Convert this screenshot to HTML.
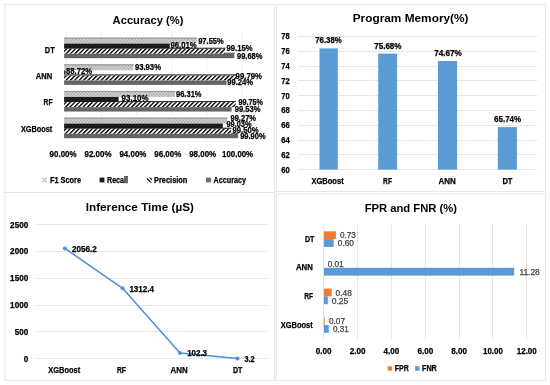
<!DOCTYPE html>
<html lang="en"><head><meta charset="utf-8"><title>Model comparison charts</title>
<style>
html,body{margin:0;padding:0;background:#fff;}
body{width:550px;height:385px;overflow:hidden;}
svg{display:block;font-family:"Liberation Sans",sans-serif;}
text.b{stroke:#000;stroke-width:0.25px;}
</style></head><body>
<svg width="550" height="385" viewBox="0 0 550 385">
<defs>
<pattern id="pF1" width="3.3" height="3.3" patternUnits="userSpaceOnUse"><rect width="3.3" height="3.3" fill="#dadada"/><g fill="#9c9c9c"><circle cx="0" cy="0" r="0.8"/><circle cx="3.3" cy="0" r="0.8"/><circle cx="0" cy="3.3" r="0.8"/><circle cx="3.3" cy="3.3" r="0.8"/><circle cx="1.65" cy="1.65" r="0.8"/></g></pattern>
<pattern id="pPr" width="4.4" height="8" patternUnits="userSpaceOnUse" patternTransform="skewX(-45)"><rect width="4.4" height="8" fill="#fff"/><rect width="2.1" height="8" fill="#111"/></pattern>
</defs>
<rect width="550" height="385" fill="#fff"/>

<g fill="none" stroke="#e4e4e4" stroke-width="1">
<rect x="5" y="4.3" width="269.6" height="188.2"/>
<rect x="276.6" y="4.3" width="269" height="187.3"/>
<rect x="5" y="192.5" width="269.6" height="187.8"/>
<rect x="276.2" y="194" width="269.4" height="186.3"/>
</g>
<g id="c1">
<text x="112.6" y="23.8" font-size="11.5" font-weight="bold" fill="#000" text-anchor="start" textLength="70.8" lengthAdjust="spacingAndGlyphs">Accuracy (%)</text>
<g stroke="#efefef" stroke-width="0.8">
<line x1="66.5" y1="32" x2="66.5" y2="139.5"/>
<line x1="66.5" y1="139.5" x2="62.5" y2="143"/>
<line x1="101.6" y1="32" x2="101.6" y2="139.5"/>
<line x1="101.6" y1="139.5" x2="97.6" y2="143"/>
<line x1="136.7" y1="32" x2="136.7" y2="139.5"/>
<line x1="136.7" y1="139.5" x2="132.7" y2="143"/>
<line x1="171.8" y1="32" x2="171.8" y2="139.5"/>
<line x1="171.8" y1="139.5" x2="167.8" y2="143"/>
<line x1="206.9" y1="32" x2="206.9" y2="139.5"/>
<line x1="206.9" y1="139.5" x2="202.9" y2="143"/>
<line x1="242.0" y1="32" x2="242.0" y2="139.5"/>
<line x1="242.0" y1="139.5" x2="238.0" y2="143"/>
</g>
<rect x="64.1" y="37.60" width="132.7" height="6.0" fill="url(#pF1)"/>
<rect x="64.1" y="37.60" width="133.2" height="1.2" fill="#9c9c9c"/>
<rect x="64.1" y="43.60" width="105.7" height="5.2" fill="#1b1b1b"/>
<rect x="64.1" y="48.80" width="160.9" height="5.0" fill="url(#pPr)"/>
<rect x="169.8" y="47.70" width="55.6" height="1.1" fill="#2a2a2a"/>
<rect x="64.1" y="53.80" width="170.2" height="4.4" fill="#656565"/>
<rect x="225.0" y="52.70" width="9.7" height="1.1" fill="#4a4a4a"/>
<rect x="64.1" y="64.27" width="69.1" height="6.0" fill="url(#pF1)"/>
<rect x="64.1" y="64.27" width="69.6" height="1.2" fill="#9c9c9c"/>
<rect x="64.1" y="75.47" width="172.1" height="5.0" fill="url(#pPr)"/>
<rect x="64.1" y="74.37" width="172.5" height="1.1" fill="#2a2a2a"/>
<rect x="64.1" y="80.47" width="162.4" height="4.4" fill="#656565"/>
<rect x="64.1" y="90.94" width="110.9" height="6.0" fill="url(#pF1)"/>
<rect x="64.1" y="90.94" width="111.4" height="1.2" fill="#9c9c9c"/>
<rect x="64.1" y="96.94" width="54.5" height="5.2" fill="#1b1b1b"/>
<rect x="64.1" y="102.14" width="171.4" height="5.0" fill="url(#pPr)"/>
<rect x="118.6" y="101.04" width="117.3" height="1.1" fill="#2a2a2a"/>
<rect x="64.1" y="107.14" width="167.5" height="4.4" fill="#656565"/>
<rect x="64.1" y="117.61" width="163.0" height="6.0" fill="url(#pF1)"/>
<rect x="64.1" y="117.61" width="163.5" height="1.2" fill="#9c9c9c"/>
<rect x="64.1" y="123.61" width="158.7" height="5.2" fill="#1b1b1b"/>
<rect x="64.1" y="128.81" width="167.0" height="5.0" fill="url(#pPr)"/>
<rect x="222.8" y="127.71" width="8.7" height="1.1" fill="#2a2a2a"/>
<rect x="64.1" y="133.81" width="174.0" height="4.4" fill="#656565"/>
<rect x="231.1" y="132.71" width="7.4" height="1.1" fill="#4a4a4a"/>
<rect x="64.1" y="70.4" width="1.5" height="3.6" fill="#1b1b1b"/>
<text x="44.8" y="52.5" font-size="8.7" font-weight="bold" fill="#000" text-anchor="start" textLength="9.9" lengthAdjust="spacingAndGlyphs" class="b">DT</text>
<text x="35.8" y="78.8" font-size="8.7" font-weight="bold" fill="#000" text-anchor="start" textLength="16.4" lengthAdjust="spacingAndGlyphs" class="b">ANN</text>
<text x="43.6" y="105.4" font-size="8.7" font-weight="bold" fill="#000" text-anchor="start" textLength="8.9" lengthAdjust="spacingAndGlyphs" class="b">RF</text>
<text x="20.9" y="132.3" font-size="8.7" font-weight="bold" fill="#000" text-anchor="start" textLength="31.3" lengthAdjust="spacingAndGlyphs" class="b">XGBoost</text>
<text x="198.2" y="43.8" font-size="8.7" font-weight="bold" fill="#000" text-anchor="start" textLength="25.5" lengthAdjust="spacingAndGlyphs" class="b">97.55%</text>
<text x="170.4" y="48.4" font-size="8.7" font-weight="bold" fill="#000" text-anchor="start" textLength="26.3" lengthAdjust="spacingAndGlyphs" class="b">96.01%</text>
<text x="226.5" y="51.4" font-size="8.7" font-weight="bold" fill="#000" text-anchor="start" textLength="26.0" lengthAdjust="spacingAndGlyphs" class="b">99.15%</text>
<text x="237.0" y="59.1" font-size="8.7" font-weight="bold" fill="#000" text-anchor="start" textLength="25.4" lengthAdjust="spacingAndGlyphs" class="b">99.68%</text>
<text x="134.9" y="70.3" font-size="8.7" font-weight="bold" fill="#000" text-anchor="start" textLength="26.1" lengthAdjust="spacingAndGlyphs" class="b">93.93%</text>
<text x="66.0" y="74.2" font-size="8.7" font-weight="bold" fill="#000" text-anchor="start" textLength="26.0" lengthAdjust="spacingAndGlyphs" class="b">88.72%</text>
<text x="235.6" y="78.5" font-size="8.7" font-weight="bold" fill="#000" text-anchor="start" textLength="26.4" lengthAdjust="spacingAndGlyphs" class="b">99.79%</text>
<text x="227.2" y="85.3" font-size="8.7" font-weight="bold" fill="#000" text-anchor="start" textLength="26.0" lengthAdjust="spacingAndGlyphs" class="b">99.24%</text>
<text x="176.0" y="96.5" font-size="8.7" font-weight="bold" fill="#000" text-anchor="start" textLength="25.5" lengthAdjust="spacingAndGlyphs" class="b">96.31%</text>
<text x="121.6" y="100.9" font-size="8.7" font-weight="bold" fill="#000" text-anchor="start" textLength="27.0" lengthAdjust="spacingAndGlyphs" class="b">93.10%</text>
<text x="238.4" y="105.0" font-size="8.7" font-weight="bold" fill="#000" text-anchor="start" textLength="24.6" lengthAdjust="spacingAndGlyphs" class="b">99.75%</text>
<text x="234.7" y="111.5" font-size="8.7" font-weight="bold" fill="#000" text-anchor="start" textLength="25.7" lengthAdjust="spacingAndGlyphs" class="b">99.53%</text>
<text x="230.5" y="121.1" font-size="8.7" font-weight="bold" fill="#000" text-anchor="start" textLength="25.5" lengthAdjust="spacingAndGlyphs" class="b">99.27%</text>
<text x="226.5" y="127.4" font-size="8.7" font-weight="bold" fill="#000" text-anchor="start" textLength="25.0" lengthAdjust="spacingAndGlyphs" class="b">99.03%</text>
<text x="232.5" y="133.2" font-size="8.7" font-weight="bold" fill="#000" text-anchor="start" textLength="26.1" lengthAdjust="spacingAndGlyphs" class="b">99.50%</text>
<text x="240.2" y="138.9" font-size="8.7" font-weight="bold" fill="#000" text-anchor="start" textLength="25.4" lengthAdjust="spacingAndGlyphs" class="b">99.90%</text>
<text x="49.6" y="157.0" font-size="8.7" font-weight="bold" fill="#000" text-anchor="start" textLength="27.0" lengthAdjust="spacingAndGlyphs" class="b">90.00%</text>
<text x="84.5" y="157.0" font-size="8.7" font-weight="bold" fill="#000" text-anchor="start" textLength="27.0" lengthAdjust="spacingAndGlyphs" class="b">92.00%</text>
<text x="119.4" y="157.0" font-size="8.7" font-weight="bold" fill="#000" text-anchor="start" textLength="27.0" lengthAdjust="spacingAndGlyphs" class="b">94.00%</text>
<text x="154.3" y="157.0" font-size="8.7" font-weight="bold" fill="#000" text-anchor="start" textLength="27.0" lengthAdjust="spacingAndGlyphs" class="b">96.00%</text>
<text x="189.2" y="157.0" font-size="8.7" font-weight="bold" fill="#000" text-anchor="start" textLength="27.0" lengthAdjust="spacingAndGlyphs" class="b">98.00%</text>
<text x="222.1" y="157.0" font-size="8.7" font-weight="bold" fill="#000" text-anchor="start" textLength="31.0" lengthAdjust="spacingAndGlyphs" class="b">100.00%</text>
<rect x="42" y="177.6" width="5" height="4.8" fill="#f1f1f1"/><g fill="#7a7a7a"><circle cx="43" cy="178.5" r="0.6"/><circle cx="45.8" cy="178.5" r="0.6"/><circle cx="44.4" cy="180" r="0.6"/><circle cx="43" cy="181.5" r="0.6"/><circle cx="45.8" cy="181.5" r="0.6"/></g>
<text x="50.0" y="182.8" font-size="8.7" font-weight="bold" fill="#000" text-anchor="start" textLength="31.0" lengthAdjust="spacingAndGlyphs" class="b">F1 Score</text>
<rect x="99.6" y="177.6" width="4.8" height="4.8" fill="#1b1b1b"/>
<text x="107.0" y="182.8" font-size="8.7" font-weight="bold" fill="#000" text-anchor="start" textLength="21.0" lengthAdjust="spacingAndGlyphs" class="b">Recall</text>
<clipPath id="cpL"><rect x="147" y="177.6" width="5" height="4.8"/></clipPath><g clip-path="url(#cpL)" stroke="#111" stroke-width="1.3"><line x1="145" y1="176.6" x2="153" y2="184.6"/><line x1="148" y1="175.6" x2="156" y2="183.6"/><line x1="142" y1="177.6" x2="150" y2="185.6"/></g>
<text x="154.0" y="182.8" font-size="8.7" font-weight="bold" fill="#000" text-anchor="start" textLength="33.4" lengthAdjust="spacingAndGlyphs" class="b">Precision</text>
<rect x="206" y="177.6" width="5" height="4.8" fill="#707070"/>
<text x="213.6" y="182.8" font-size="8.7" font-weight="bold" fill="#000" text-anchor="start" textLength="32.4" lengthAdjust="spacingAndGlyphs" class="b">Accuracy</text>
</g>
<g id="c2">
<text x="352.7" y="22.0" font-size="11.5" font-weight="bold" fill="#000" text-anchor="start" textLength="115.8" lengthAdjust="spacingAndGlyphs">Program Memory(%)</text>
<g stroke="#e6e6e6" stroke-width="1">
<line x1="298" y1="36.5" x2="537.2" y2="36.5"/>
<line x1="298" y1="51.5" x2="537.2" y2="51.5"/>
<line x1="298" y1="66.5" x2="537.2" y2="66.5"/>
<line x1="298" y1="80.5" x2="537.2" y2="80.5"/>
<line x1="298" y1="95.5" x2="537.2" y2="95.5"/>
<line x1="298" y1="110.5" x2="537.2" y2="110.5"/>
<line x1="298" y1="125.5" x2="537.2" y2="125.5"/>
<line x1="298" y1="140.5" x2="537.2" y2="140.5"/>
<line x1="298" y1="154.5" x2="537.2" y2="154.5"/>
<line x1="298" y1="169.5" x2="537.2" y2="169.5"/>
</g>
<text x="281.3" y="39.3" font-size="9" font-weight="bold" fill="#000" text-anchor="start" textLength="8.5" lengthAdjust="spacingAndGlyphs" class="b">78</text>
<text x="281.3" y="54.1" font-size="9" font-weight="bold" fill="#000" text-anchor="start" textLength="8.5" lengthAdjust="spacingAndGlyphs" class="b">76</text>
<text x="281.3" y="68.9" font-size="9" font-weight="bold" fill="#000" text-anchor="start" textLength="8.5" lengthAdjust="spacingAndGlyphs" class="b">74</text>
<text x="281.3" y="83.7" font-size="9" font-weight="bold" fill="#000" text-anchor="start" textLength="8.5" lengthAdjust="spacingAndGlyphs" class="b">72</text>
<text x="281.3" y="98.5" font-size="9" font-weight="bold" fill="#000" text-anchor="start" textLength="8.5" lengthAdjust="spacingAndGlyphs" class="b">70</text>
<text x="281.3" y="113.3" font-size="9" font-weight="bold" fill="#000" text-anchor="start" textLength="8.5" lengthAdjust="spacingAndGlyphs" class="b">68</text>
<text x="281.3" y="128.1" font-size="9" font-weight="bold" fill="#000" text-anchor="start" textLength="8.5" lengthAdjust="spacingAndGlyphs" class="b">66</text>
<text x="281.3" y="142.9" font-size="9" font-weight="bold" fill="#000" text-anchor="start" textLength="8.5" lengthAdjust="spacingAndGlyphs" class="b">64</text>
<text x="281.3" y="157.7" font-size="9" font-weight="bold" fill="#000" text-anchor="start" textLength="8.5" lengthAdjust="spacingAndGlyphs" class="b">62</text>
<text x="281.3" y="172.5" font-size="9" font-weight="bold" fill="#000" text-anchor="start" textLength="8.5" lengthAdjust="spacingAndGlyphs" class="b">60</text>
<rect x="319.5" y="48.4" width="18.3" height="121.2" fill="#5b9bd5"/>
<text x="311.4" y="184.4" font-size="8.7" font-weight="bold" fill="#000" text-anchor="start" textLength="32.3" lengthAdjust="spacingAndGlyphs" class="b">XGBoost</text>
<text x="315.2" y="42.9" font-size="8.7" font-weight="bold" fill="#000" text-anchor="start" textLength="26.5" lengthAdjust="spacingAndGlyphs" class="b">76.38%</text>
<rect x="378.2" y="53.6" width="18.9" height="116.0" fill="#5b9bd5"/>
<text x="383.1" y="184.4" font-size="8.7" font-weight="bold" fill="#000" text-anchor="start" textLength="8.9" lengthAdjust="spacingAndGlyphs" class="b">RF</text>
<text x="374.2" y="48.7" font-size="8.7" font-weight="bold" fill="#000" text-anchor="start" textLength="27.3" lengthAdjust="spacingAndGlyphs" class="b">75.68%</text>
<rect x="438" y="61.0" width="19.1" height="108.6" fill="#5b9bd5"/>
<text x="438.5" y="184.4" font-size="8.7" font-weight="bold" fill="#000" text-anchor="start" textLength="17.3" lengthAdjust="spacingAndGlyphs" class="b">ANN</text>
<text x="434.2" y="55.6" font-size="8.7" font-weight="bold" fill="#000" text-anchor="start" textLength="27.5" lengthAdjust="spacingAndGlyphs" class="b">74.67%</text>
<rect x="497.8" y="127.1" width="19.1" height="42.5" fill="#5b9bd5"/>
<text x="502.4" y="184.4" font-size="8.7" font-weight="bold" fill="#000" text-anchor="start" textLength="10.1" lengthAdjust="spacingAndGlyphs" class="b">DT</text>
<text x="494.0" y="121.6" font-size="8.7" font-weight="bold" fill="#000" text-anchor="start" textLength="27.2" lengthAdjust="spacingAndGlyphs" class="b">65.74%</text>
</g>
<g id="c3">
<text x="85.8" y="211.0" font-size="11.5" font-weight="bold" fill="#000" text-anchor="start" textLength="108.1" lengthAdjust="spacingAndGlyphs">Inference Time (µS)</text>
<g stroke="#e6e6e6" stroke-width="1">
<line x1="36.9" y1="224.5" x2="267.3" y2="224.5"/>
<line x1="36.9" y1="251.5" x2="267.3" y2="251.5"/>
<line x1="36.9" y1="278.5" x2="267.3" y2="278.5"/>
<line x1="36.9" y1="305.5" x2="267.3" y2="305.5"/>
<line x1="36.9" y1="331.5" x2="267.3" y2="331.5"/>
<line x1="36.9" y1="358.5" x2="267.3" y2="358.5"/>
</g>
<text x="10.1" y="227.6" font-size="9" font-weight="bold" fill="#000" text-anchor="start" textLength="18.2" lengthAdjust="spacingAndGlyphs" class="b">2500</text>
<text x="10.1" y="254.4" font-size="9" font-weight="bold" fill="#000" text-anchor="start" textLength="18.2" lengthAdjust="spacingAndGlyphs" class="b">2000</text>
<text x="10.1" y="281.2" font-size="9" font-weight="bold" fill="#000" text-anchor="start" textLength="18.2" lengthAdjust="spacingAndGlyphs" class="b">1500</text>
<text x="10.1" y="308.0" font-size="9" font-weight="bold" fill="#000" text-anchor="start" textLength="18.2" lengthAdjust="spacingAndGlyphs" class="b">1000</text>
<text x="14.7" y="334.8" font-size="9" font-weight="bold" fill="#000" text-anchor="start" textLength="13.6" lengthAdjust="spacingAndGlyphs" class="b">500</text>
<text x="23.8" y="361.6" font-size="9" font-weight="bold" fill="#000" text-anchor="start" textLength="4.5" lengthAdjust="spacingAndGlyphs" class="b">0</text>
<polyline fill="none" stroke="#4a8fd8" stroke-width="1.5" stroke-linejoin="round" points="64.9,248.4 122.6,288.3 180.0,353.1 237.5,358.4"/>
<circle cx="64.9" cy="248.4" r="2" fill="#4f93d8"/>
<circle cx="122.6" cy="288.3" r="2" fill="#4f93d8"/>
<circle cx="180.0" cy="353.1" r="2" fill="#4f93d8"/>
<circle cx="237.5" cy="358.4" r="2" fill="#4f93d8"/>
<text x="72.0" y="252.2" font-size="8.7" font-weight="bold" fill="#000" text-anchor="start" textLength="24.7" lengthAdjust="spacingAndGlyphs" class="b">2056.2</text>
<text x="129.4" y="292.0" font-size="8.7" font-weight="bold" fill="#000" text-anchor="start" textLength="24.6" lengthAdjust="spacingAndGlyphs" class="b">1312.4</text>
<text x="187.2" y="356.1" font-size="8.7" font-weight="bold" fill="#000" text-anchor="start" textLength="19.8" lengthAdjust="spacingAndGlyphs" class="b">102.3</text>
<text x="244.4" y="362.2" font-size="8.7" font-weight="bold" fill="#000" text-anchor="start" textLength="10.2" lengthAdjust="spacingAndGlyphs" class="b">3.2</text>
<text x="48.3" y="372.6" font-size="8.7" font-weight="bold" fill="#000" text-anchor="start" textLength="31.9" lengthAdjust="spacingAndGlyphs" class="b">XGBoost</text>
<text x="117.0" y="372.6" font-size="8.7" font-weight="bold" fill="#000" text-anchor="start" textLength="9.0" lengthAdjust="spacingAndGlyphs" class="b">RF</text>
<text x="170.6" y="372.6" font-size="8.7" font-weight="bold" fill="#000" text-anchor="start" textLength="17.1" lengthAdjust="spacingAndGlyphs" class="b">ANN</text>
<text x="233.0" y="372.6" font-size="8.7" font-weight="bold" fill="#000" text-anchor="start" textLength="9.4" lengthAdjust="spacingAndGlyphs" class="b">DT</text>
</g>
<g id="c4">
<text x="364.7" y="211.8" font-size="11.5" font-weight="bold" fill="#000" text-anchor="start" textLength="92.3" lengthAdjust="spacingAndGlyphs">FPR and FNR (%)</text>
<g stroke="#e6e6e6" stroke-width="1">
<line x1="323.5" y1="224.6" x2="323.5" y2="339.4"/>
<line x1="357.5" y1="224.6" x2="357.5" y2="339.4"/>
<line x1="391.5" y1="224.6" x2="391.5" y2="339.4"/>
<line x1="425.5" y1="224.6" x2="425.5" y2="339.4"/>
<line x1="459.5" y1="224.6" x2="459.5" y2="339.4"/>
<line x1="492.5" y1="224.6" x2="492.5" y2="339.4"/>
<line x1="526.5" y1="224.6" x2="526.5" y2="339.4"/>
</g>
<rect x="323.9" y="231.3" width="12.0" height="7.8" fill="#ed7d31"/>
<rect x="323.9" y="239.1" width="9.8" height="7.8" fill="#5b9bd5"/>
<rect x="323.9" y="267.8" width="190.3" height="7.8" fill="#5b9bd5"/>
<rect x="323.9" y="288.6" width="7.8" height="7.8" fill="#ed7d31"/>
<rect x="323.9" y="296.4" width="3.9" height="7.8" fill="#5b9bd5"/>
<rect x="323.9" y="317.2" width="0.9" height="7.8" fill="#ed7d31"/>
<rect x="323.9" y="325.0" width="4.9" height="7.8" fill="#5b9bd5"/>
<text x="339.9" y="238.2" font-size="8.7" font-weight="normal" fill="#404040" text-anchor="start" textLength="16.0" lengthAdjust="spacingAndGlyphs" stroke="#404040" stroke-width="0.25">0.73</text>
<text x="337.8" y="246.3" font-size="8.7" font-weight="normal" fill="#404040" text-anchor="start" textLength="16.1" lengthAdjust="spacingAndGlyphs" stroke="#404040" stroke-width="0.25">0.60</text>
<text x="327.7" y="266.9" font-size="8.7" font-weight="normal" fill="#404040" text-anchor="start" textLength="16.0" lengthAdjust="spacingAndGlyphs" stroke="#404040" stroke-width="0.25">0.01</text>
<text x="519.4" y="275.1" font-size="8.7" font-weight="normal" fill="#404040" text-anchor="start" textLength="20.4" lengthAdjust="spacingAndGlyphs" stroke="#404040" stroke-width="0.25">11.28</text>
<text x="335.6" y="295.5" font-size="8.7" font-weight="normal" fill="#404040" text-anchor="start" textLength="16.2" lengthAdjust="spacingAndGlyphs" stroke="#404040" stroke-width="0.25">0.48</text>
<text x="331.7" y="303.9" font-size="8.7" font-weight="normal" fill="#404040" text-anchor="start" textLength="16.6" lengthAdjust="spacingAndGlyphs" stroke="#404040" stroke-width="0.25">0.25</text>
<text x="329.0" y="324.3" font-size="8.7" font-weight="normal" fill="#404040" text-anchor="start" textLength="16.0" lengthAdjust="spacingAndGlyphs" stroke="#404040" stroke-width="0.25">0.07</text>
<text x="333.0" y="332.4" font-size="8.7" font-weight="normal" fill="#404040" text-anchor="start" textLength="15.8" lengthAdjust="spacingAndGlyphs" stroke="#404040" stroke-width="0.25">0.31</text>
<text x="305.0" y="241.9" font-size="8.7" font-weight="bold" fill="#000" text-anchor="start" textLength="9.4" lengthAdjust="spacingAndGlyphs" class="b">DT</text>
<text x="295.9" y="270.1" font-size="8.7" font-weight="bold" fill="#000" text-anchor="start" textLength="16.9" lengthAdjust="spacingAndGlyphs" class="b">ANN</text>
<text x="304.3" y="298.9" font-size="8.7" font-weight="bold" fill="#000" text-anchor="start" textLength="8.9" lengthAdjust="spacingAndGlyphs" class="b">RF</text>
<text x="280.7" y="327.9" font-size="8.7" font-weight="bold" fill="#000" text-anchor="start" textLength="32.0" lengthAdjust="spacingAndGlyphs" class="b">XGBoost</text>
<text x="315.8" y="354.1" font-size="8.7" font-weight="bold" fill="#000" text-anchor="start" textLength="15.8" lengthAdjust="spacingAndGlyphs" class="b">0.00</text>
<text x="349.7" y="354.1" font-size="8.7" font-weight="bold" fill="#000" text-anchor="start" textLength="15.8" lengthAdjust="spacingAndGlyphs" class="b">2.00</text>
<text x="383.5" y="354.1" font-size="8.7" font-weight="bold" fill="#000" text-anchor="start" textLength="15.8" lengthAdjust="spacingAndGlyphs" class="b">4.00</text>
<text x="417.4" y="354.1" font-size="8.7" font-weight="bold" fill="#000" text-anchor="start" textLength="15.8" lengthAdjust="spacingAndGlyphs" class="b">6.00</text>
<text x="451.2" y="354.1" font-size="8.7" font-weight="bold" fill="#000" text-anchor="start" textLength="15.8" lengthAdjust="spacingAndGlyphs" class="b">8.00</text>
<text x="483.0" y="354.1" font-size="8.7" font-weight="bold" fill="#000" text-anchor="start" textLength="19.9" lengthAdjust="spacingAndGlyphs" class="b">10.00</text>
<text x="516.8" y="354.1" font-size="8.7" font-weight="bold" fill="#000" text-anchor="start" textLength="19.9" lengthAdjust="spacingAndGlyphs" class="b">12.00</text>
<rect x="387.7" y="366.3" width="4.4" height="4.4" fill="#ed7d31"/>
<text x="394.8" y="371.3" font-size="8.7" font-weight="bold" fill="#000" text-anchor="start" textLength="14.0" lengthAdjust="spacingAndGlyphs" class="b">FPR</text>
<rect x="415.1" y="366.3" width="4.4" height="4.4" fill="#5b9bd5"/>
<text x="422.0" y="371.3" font-size="8.7" font-weight="bold" fill="#000" text-anchor="start" textLength="14.8" lengthAdjust="spacingAndGlyphs" class="b">FNR</text>
</g>
</svg>
</body></html>
